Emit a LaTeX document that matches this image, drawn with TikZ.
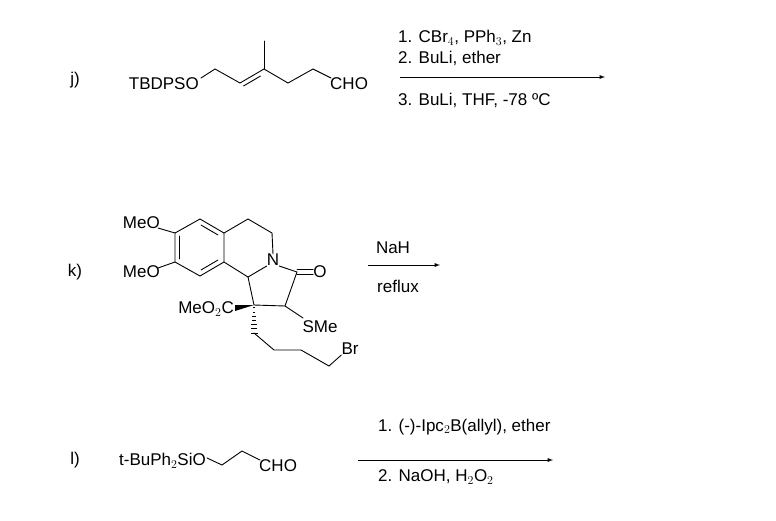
\documentclass[tikz,border=0pt]{standalone}
\usepackage{fontspec}
\setmainfont{Liberation Sans}
\usetikzlibrary{calc}
\begin{document}
\begin{tikzpicture}[x=1pt,y=-1pt,
  lbl/.style={inner sep=0pt,font=\fontsize{17}{20}\selectfont},
  bnd/.style={line width=0.9pt,line cap=round},
  arr/.style={line width=0.9pt,-latex}]
\useasboundingbox (0,0) rectangle (776,520);
% ---------- j ----------
\node[lbl] (jl) at (75,80) {j)};
\node[lbl,anchor=east] (j0) at (199,84) {TBDPSO};
\coordinate (j1) at (215,69);
\coordinate (j2) at (240,83);
\coordinate (j3) at (264,69);
\coordinate (jm) at (264,41);
\coordinate (j4) at (288,83);
\coordinate (j5) at (313,69);
\node[lbl,anchor=west] (jc) at (330,84) {CHO};
\draw[bnd] (201,78) -- (j1) -- (j2) -- (j3) -- (j4) -- (j5) -- (331,78);
\draw[bnd] (j3) -- (jm);
\draw[bnd] ($(j2)!0.15!(j3)+(0,5)$) -- ($(j2)!0.85!(j3)+(0,5)$);
\coordinate (ja) at (400,77); \coordinate (jb) at (605,77);
\draw[arr] (ja) -- (jb);
\node[lbl,anchor=west] (jt1) at (398,38) {1. CBr$_4$, PPh$_3$, Zn};
\node[lbl,anchor=west] (jt2) at (398,58) {2. BuLi, ether};
\node[lbl,anchor=west] (jt3) at (398,100) {3. BuLi, THF, -78 ºC};
% ---------- k ----------
\node[lbl] (kl) at (75,272) {k)};
\coordinate (r1) at (200,219);
\coordinate (r2) at (224,233);
\coordinate (r3) at (224,262);
\coordinate (r4) at (200,276);
\coordinate (r5) at (175,262);
\coordinate (r6) at (175,233);
\draw[bnd] (r1)--(r2)--(r3)--(r4)--(r5)--(r6)--cycle;
\draw[bnd] ($(r6)+(4.5,3)$) -- ($(r5)+(4.5,-3)$);
\draw[bnd] ($(r1)!0.15!(r2)+(-2.5,4)$) -- ($(r1)!0.85!(r2)+(-2.5,4)$);
\draw[bnd] ($(r3)!0.15!(r4)+(-2.5,-4)$) -- ($(r3)!0.85!(r4)+(-2.5,-4)$);
\node[lbl,anchor=east] (mo1) at (160,223) {MeO};
\node[lbl,anchor=east] (mo2) at (160,272) {MeO};
\draw[bnd] (158,228) -- (r6);
\draw[bnd] (158,268) -- (r5);
\coordinate (c5) at (248,219);
\coordinate (c6) at (272,233);
\node[lbl] (N) at (273,260) {N};
\draw[bnd] (r2) -- (c5) -- (c6) -- (N.north);
\coordinate (c1) at (248,277);
\draw[bnd] (r3) -- (c1) -- (N.south west);
\coordinate (c2) at (254,305);
\coordinate (c3) at (297,272);
\coordinate (c4) at (285,306);
\node[lbl] (O) at (320,272) {O};
\draw[bnd] (N.south east) -- (c3) -- (c4) -- (c2) -- (c1);
\draw[bnd] ($(c3)+(0,-2.5)$) -- ($(O.west)+(0,-2.5)$);
\draw[bnd] ($(c3)+(0,2.5)$) -- ($(O.west)+(0,2.5)$);
\node[lbl] (sme) at (320,327) {SMe};
\draw[bnd] (c4) -- (303,318);
\node[lbl,anchor=east] (ester) at (234,309) {MeO$_2$C};
\fill (c2) -- ($(ester.east)+(1,-4)$) -- ($(ester.east)+(1,2)$) -- cycle;
\coordinate (h1) at (254,333);
\foreach \t in {0.1,0.25,...,1.0}{
  \draw[line width=0.8pt] ($(c2)!\t!(h1)+(-0.5-3*\t,0)$) -- ($(c2)!\t!(h1)+(0.5+3*\t,0)$);}
\coordinate (h2) at (274,350);
\coordinate (h3) at (301,350);
\coordinate (h4) at (329,366);
\node[lbl] (br) at (350,349) {Br};
\draw[bnd] (h1) -- (h2) -- (h3) -- (h4) -- (br.south west);
\coordinate (ka) at (368,265); \coordinate (kb) at (440,265);
\draw[arr] (ka) -- (kb);
\node[lbl] (kt1) at (393,248) {NaH};
\node[lbl] (kt2) at (398,286) {reflux};
% ---------- l ----------
\node[lbl] (ll) at (75,460) {l)};
\node[lbl,anchor=east] (l0) at (206,461) {t-BuPh$_2$SiO};
\coordinate (l1) at (222,465);
\coordinate (l2) at (242,451);
\node[lbl,anchor=west] (lc) at (259,466) {CHO};
\draw[bnd] (207,458) -- (l1) -- (l2) -- (260,460);
\coordinate (la) at (358,460); \coordinate (lb) at (553,460);
\draw[arr] (la) -- (lb);
\node[lbl,anchor=west] (lt1) at (378,427) {1. (-)-Ipc$_2$B(allyl), ether};
\node[lbl,anchor=west] (lt2) at (378,477) {2. NaOH, H$_2$O$_2$};
\end{tikzpicture}
\end{document}
